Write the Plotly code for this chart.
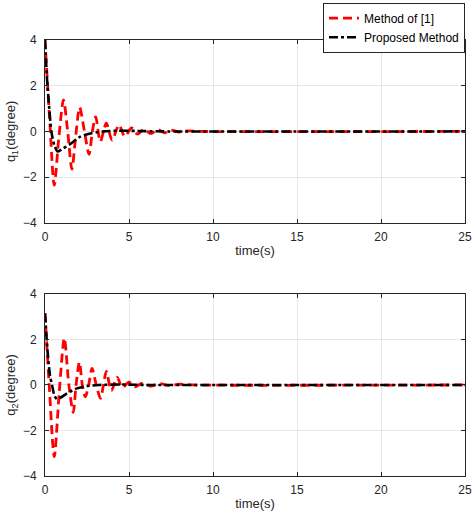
import plotly.graph_objects as go

# ---- data ----
t_m1_q1 = [0, 0.28, 0.55, 0.82, 1.1, 1.35, 1.6, 1.83, 2.06, 2.35, 2.62, 2.82, 3.02, 3.29, 3.65, 3.99, 4.4, 4.75, 5.15, 5.5, 5.9, 6.3, 6.7, 7.1, 7.5, 8.0, 8.5, 9.2, 25]
y_m1_q1 = [4, 0.5, -2.35, -0.3, 1.38, 0, -1.65, -0.2, 1.05, 0, -1.0, 0, 0.64, -0.45, 0.36, -0.38, 0.28, -0.22, 0.15, -0.12, 0.1, -0.1, 0.08, -0.06, 0.05, -0.03, 0.02, 0, 0]

t_pm_q1 = [0, 0.12, 0.26, 0.38, 0.55, 0.75, 1.0, 1.5, 2.1, 2.7, 3.5, 4.3, 5.5, 7, 25]
y_pm_q1 = [4, 2.3, 0.95, 0, -0.6, -0.88, -0.78, -0.55, -0.23, -0.09, 0.0, 0.03, 0.02, 0, 0]

t_m1_q2 = [0, 0.25, 0.55, 0.85, 1.15, 1.42, 1.68, 1.85, 2.05, 2.22, 2.4, 2.6, 2.8, 3.05, 3.3, 3.48, 3.65, 3.95, 4.3, 4.6, 5.0, 5.35, 5.8, 6.3, 6.8, 7.4, 8.0, 8.8, 25]
y_m1_q2 = [3.15, 0, -3.15, -0.3, 2.05, 0, -1.2, 0, 1.0, 0, -0.52, 0, 0.73, 0, -0.59, 0, 0.6, -0.25, 0.33, -0.12, 0.12, -0.08, 0.08, -0.05, 0.06, -0.03, 0.03, 0, 0]

t_pm_q2 = [0, 0.15, 0.3, 0.42, 0.55, 0.71, 0.95, 1.31, 1.9, 2.5, 3.2, 4.5, 6, 25]
y_pm_q2 = [3.15, 1.5, 0.4, 0, -0.45, -0.62, -0.55, -0.37, -0.15, -0.05, 0, 0.02, 0, 0]

x_ticks = [0, 5, 10, 15, 20, 25]
y_ticks = [-4, -2, 0, 2, 4]

FONT = "Liberation Sans, Arial, sans-serif"
AX = "#262626"
red_dash = "9px,5px"

fig = go.Figure()
fig.add_trace(go.Scatter(x=t_m1_q1, y=y_m1_q1, mode="lines", name="Method of [1]",
                         line=dict(color="#ff0000", width=2.8, dash=red_dash, shape="spline", smoothing=0.8),
                         xaxis="x", yaxis="y"))
fig.add_trace(go.Scatter(x=t_pm_q1, y=y_pm_q1, mode="lines", name="Proposed Method",
                         line=dict(color="#000000", width=2.6, dash="dashdot", shape="spline", smoothing=0.6),
                         xaxis="x", yaxis="y"))
fig.add_trace(go.Scatter(x=t_m1_q2, y=y_m1_q2, mode="lines", showlegend=False,
                         line=dict(color="#ff0000", width=2.8, dash=red_dash, shape="spline", smoothing=0.8),
                         xaxis="x2", yaxis="y2"))
fig.add_trace(go.Scatter(x=t_pm_q2, y=y_pm_q2, mode="lines", showlegend=False,
                         line=dict(color="#000000", width=2.6, dash="dashdot", shape="spline", smoothing=0.6),
                         xaxis="x2", yaxis="y2"))

def xax(anchor):
    return dict(range=[0, 25], tickvals=x_ticks, showgrid=True, gridcolor="#e6e6e6", gridwidth=1,
                zeroline=False, showline=True, linecolor=AX, linewidth=1, mirror="ticks",
                ticks="inside", ticklen=4, tickcolor=AX, anchor=anchor, automargin=False,
                ticklabelstandoff=3,
                tickfont=dict(size=12, color=AX, family=FONT),
                title=dict(text="time(s)", font=dict(size=13, color=AX, family=FONT), standoff=2))

def yax(anchor, domain, label):
    return dict(range=[-4, 4], tickvals=y_ticks, showgrid=True, gridcolor="#e6e6e6", gridwidth=1,
                zeroline=False, showline=True, linecolor=AX, linewidth=1, mirror="ticks",
                ticks="inside", ticklen=4, tickcolor=AX, anchor=anchor, domain=domain, automargin=False,
                ticklabelstandoff=5,
                tickfont=dict(size=12, color=AX, family=FONT),
                title=dict(text=label, font=dict(size=13, color=AX, family=FONT), standoff=4))

fig.update_layout(
    width=474, height=520,
    margin=dict(l=45, r=9, t=40, b=44, autoexpand=False),
    paper_bgcolor="white", plot_bgcolor="white",
    font=dict(family=FONT, color=AX),
    xaxis=xax("y"),
    yaxis=yax("x", [0.5807, 1.0], "q<sub>1</sub>(degree)"),
    xaxis2=xax("y2"),
    yaxis2=yax("x2", [0.0, 0.4177], "q<sub>2</sub>(degree)"),
    legend=dict(x=1.0, xanchor="right", y=1.0856, yanchor="top",
                bgcolor="white", bordercolor=AX, borderwidth=1,
                font=dict(size=12, color="#000000", family=FONT),
                tracegroupgap=0, itemwidth=30),
)

fig.write_html("out.html", config={"displayModeBar": False},
               post_script="document.body.style.margin='0';document.body.style.overflow='hidden';")
